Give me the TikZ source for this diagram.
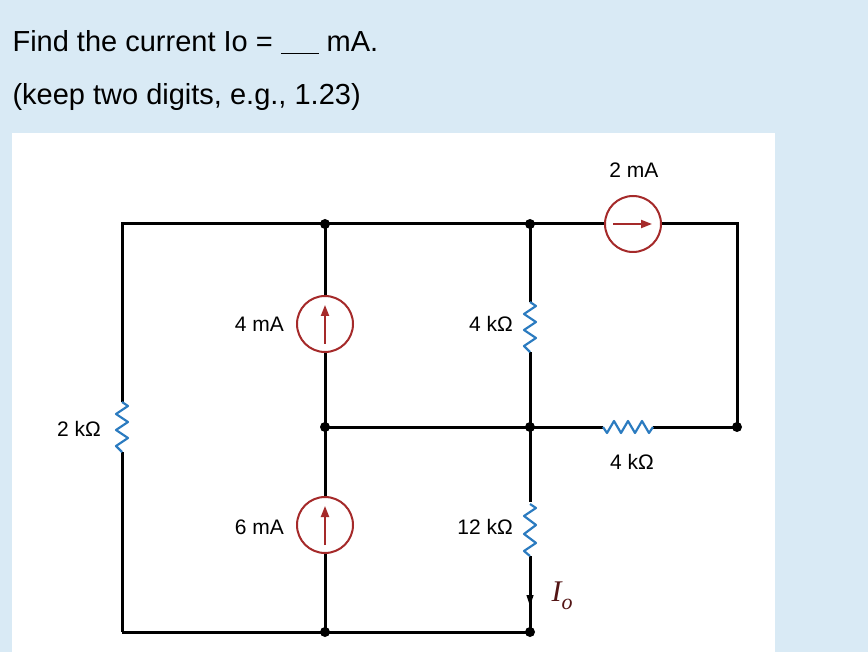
\documentclass[tikz,border=0pt]{standalone}
\usepackage{fontspec}
\setmainfont{Liberation Sans}
\newfontfamily\serifit{Liberation Serif}
\usetikzlibrary{arrows.meta}
\definecolor{bg}{HTML}{D9EAF5}
\definecolor{rblue}{HTML}{2B7BC0}
\definecolor{sred}{HTML}{A52A2A}
\tikzset{
 wire/.style={line width=3pt,black},
 res/.style={line width=2.2pt,rblue,line join=round},
 src/.style={circle,draw=sred,line width=2pt,minimum size=56pt,inner sep=0pt,fill=white},
 dot/.style={circle,fill=black,inner sep=0pt,minimum size=10pt},
 lab/.style={font=\fontsize{21}{21}\selectfont,inner sep=1pt},
 arr/.style={sred,line width=2pt,-{Triangle[length=11pt,width=8pt]}}
}
\begin{document}
\begin{tikzpicture}[x=1pt,y=-1pt]
\useasboundingbox (0,0) rectangle (868,652);
\fill[bg] (0,0) rectangle (868,652);
\fill[white] (12,133) rectangle (775,652);
\node[anchor=west,font=\fontsize{29}{29}\selectfont] (t1) at (9,42) {Find the current Io = \underline{\hspace{1.3em}} mA.};
\node[anchor=west,font=\fontsize{29}{29}\selectfont] (t2) at (9,97) {(keep two digits, e.g., 1.23)};
% junctions
\coordinate (TL) at (122,224); \coordinate (TM) at (325,224); \coordinate (TR) at (530,224); \coordinate (TE) at (737,224);
\coordinate (ML) at (122,427); \coordinate (MM) at (325,427); \coordinate (MR) at (530,427); \coordinate (ME) at (737,427);
\coordinate (BL) at (122,632); \coordinate (BM) at (325,632); \coordinate (BR) at (530,632); \coordinate (BE) at (737,632);
% wires
\draw[wire] (BL) -- (TL) -- (TE) -- (ME);
\draw[wire] (BL) -- (BR);
\draw[wire] (TM) -- (BM);
\draw[wire] (TR) -- (BR);
\draw[wire] (MM) -- (ME);
% white gaps for resistors
\fill[white] (114,402) rectangle (130,452);
\fill[white] (522,302) rectangle (538,352);
\fill[white] (522,502) rectangle (538,556);
\fill[white] (603,419) rectangle (653,435);
% resistors
\draw[res] (122,402) -- (128,406) -- (116,414) -- (128,422) -- (116,430) -- (128,438) -- (116,446) -- (122,452);
\draw[res] (530,302) -- (536,306) -- (524,314) -- (536,322) -- (524,330) -- (536,338) -- (524,346) -- (530,352);
\draw[res] (530,504) -- (536,508) -- (524,516) -- (536,525) -- (524,534) -- (536,543) -- (524,551) -- (530,556);
\draw[res] (603,427) -- (607,433) -- (614,421) -- (621,433) -- (628,421) -- (635,433) -- (642,421) -- (649,433) -- (653,427);
% sources
\node[src] (s4) at (325,324) {};
\draw[arr] ([yshift=-20pt]s4.center) -- ([yshift=19pt]s4.center);
\node[src] (s6) at (325,525) {};
\draw[arr] ([yshift=-20pt]s6.center) -- ([yshift=19pt]s6.center);
\node[src] (s2) at (633,224) {};
\draw[arr] ([xshift=-20pt]s2.center) -- ([xshift=19pt]s2.center);
% Io arrow
\draw[black,line width=1.2pt,-{Triangle[length=11pt,width=7pt]}] (530,585) -- (530,606);
% dots
\foreach \p in {TM,TR,MM,MR,ME,BM,BR} \node[dot] at (\p) {};
% labels
\node[lab] (l2a) at (634,170) {2 mA};
\node[lab,anchor=east] (l4a) at (285,324) {4 mA};
\node[lab,anchor=east] (l6a) at (285,527) {6 mA};
\node[lab,anchor=east] (l4k) at (514,324) {4 kΩ};
\node[lab,anchor=east] (l12k) at (514,527) {12 kΩ};
\node[lab,anchor=east] (l2k) at (102,429) {2 kΩ};
\node[lab] (l4k2) at (632,462) {4 kΩ};
\node[font=\fontsize{30}{30}\selectfont\serifit\itshape,text=sred!50!black] (io) at (562,596) {I\raisebox{-0.25em}{\fontsize{22}{22}\selectfont o}};
\end{tikzpicture}
\end{document}
